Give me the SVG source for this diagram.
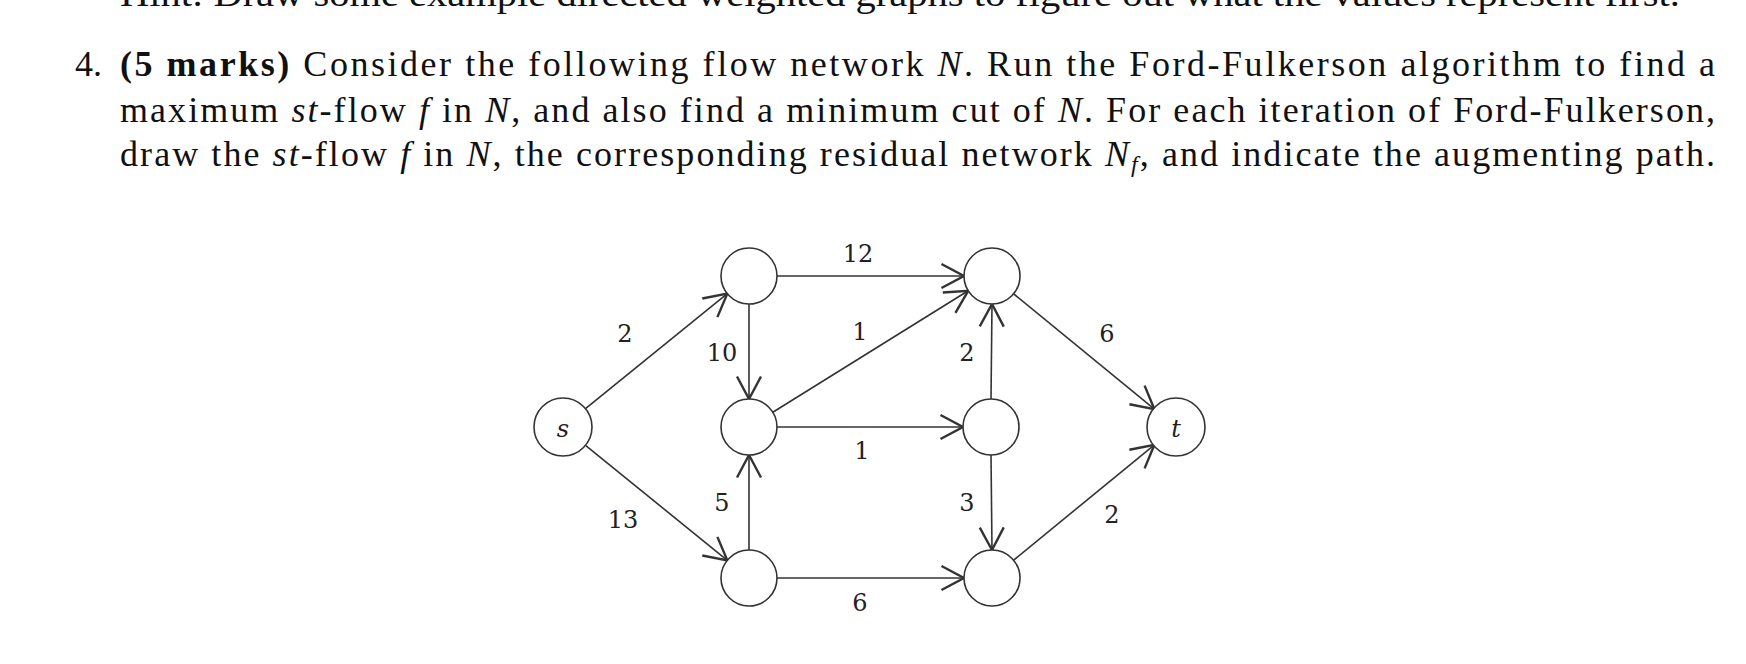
<svg xmlns="http://www.w3.org/2000/svg" width="1746" height="664" viewBox="0 0 1746 664">
<style>
.t{font-family:"Liberation Serif",serif;font-size:36px;fill:#111}
.n{fill:#fff;stroke:#333;stroke-width:1.6}
.e{stroke:#333;stroke-width:1.6;fill:none;marker-end:url(#a)}
.l{font-family:"DejaVu Serif","Liberation Serif",serif;font-size:24px;fill:#222;text-anchor:middle}
</style>
<defs><marker id="a" markerUnits="userSpaceOnUse" markerWidth="30" markerHeight="30" viewBox="-16 -10 18 20" refX="0" refY="0" orient="auto"><path d="M-15,-8 L0,0 L-15,8" fill="none" stroke="#333" stroke-width="1.6"/></marker></defs>
<rect width="1746" height="664" fill="#fff"/>
<text class="t" x="120" y="6" textLength="1560" lengthAdjust="spacingAndGlyphs">Hint: Draw some example directed weighted graphs to figure out what the values represent first.</text>
<text class="t" x="75" y="76">4.</text>
<text class="t" x="120" y="76" textLength="1595" lengthAdjust="spacing"><tspan font-weight="bold">(5 marks)</tspan> Consider the following flow network <tspan font-style="italic">N</tspan>.  Run the Ford-Fulkerson algorithm to find a</text>
<text class="t" x="120" y="122" textLength="1595" lengthAdjust="spacing">maximum <tspan font-style="italic">st</tspan>-flow <tspan font-style="italic">f</tspan> in <tspan font-style="italic">N</tspan>, and also find a minimum cut of <tspan font-style="italic">N</tspan>. For each iteration of Ford-Fulkerson,</text>
<text class="t" x="120" y="166" textLength="1595" lengthAdjust="spacing">draw the <tspan font-style="italic">st</tspan>-flow <tspan font-style="italic">f</tspan> in <tspan font-style="italic">N</tspan>, the corresponding residual network <tspan font-style="italic">N</tspan><tspan font-style="italic" font-size="24" dy="6">f</tspan><tspan dy="-6">, and indicate the augmenting path.</tspan></text>
<g id="edges">
<line class="e" x1="585.5" y1="408.7" x2="727.3" y2="293.6"/>
<line class="e" x1="585.5" y1="445.3" x2="727.3" y2="560.4"/>
<line class="e" x1="777" y1="276" x2="964" y2="276"/>
<line class="e" x1="749" y1="304" x2="749" y2="399"/>
<line class="e" x1="772.8" y1="412.2" x2="968.2" y2="290.8"/>
<line class="e" x1="777" y1="427" x2="963" y2="427"/>
<line class="e" x1="749" y1="550" x2="749" y2="455"/>
<line class="e" x1="777" y1="578" x2="964" y2="578"/>
<line class="e" x1="991" y1="399" x2="992" y2="304"/>
<line class="e" x1="991" y1="455" x2="992" y2="550"/>
<line class="e" x1="1013.6" y1="293.8" x2="1154.4" y2="409.2"/>
<line class="e" x1="1013.6" y1="560.2" x2="1154.4" y2="444.8"/>
<text class="l" x="625" y="342">2</text>
<text class="l" x="623" y="528">13</text>
<text class="l" x="858" y="262">12</text>
<text class="l" x="722" y="361">10</text>
<text class="l" x="860" y="340">1</text>
<text class="l" x="862" y="459">1</text>
<text class="l" x="722" y="511">5</text>
<text class="l" x="967" y="361">2</text>
<text class="l" x="967" y="511">3</text>
<text class="l" x="1107" y="342">6</text>
<text class="l" x="1112" y="523">2</text>
<text class="l" x="860" y="611">6</text>
</g>
<g id="s"><ellipse class="n" cx="563" cy="427" rx="29" ry="29"/><text class="l" x="563" y="437" font-style="italic" font-size="30">s</text></g>
<g id="a1"><circle class="n" cx="749" cy="276" r="28"/></g>
<g id="b1"><circle class="n" cx="749" cy="427" r="28"/></g>
<g id="c1"><circle class="n" cx="749" cy="578" r="28"/></g>
<g id="d1"><circle class="n" cx="992" cy="276" r="28"/></g>
<g id="e1"><circle class="n" cx="991" cy="427" r="28"/></g>
<g id="f1"><circle class="n" cx="992" cy="578" r="28"/></g>
<g id="t"><ellipse class="n" cx="1176" cy="427" rx="29" ry="29"/><text class="l" x="1176" y="437" font-style="italic" font-size="30">t</text></g>
</svg>
